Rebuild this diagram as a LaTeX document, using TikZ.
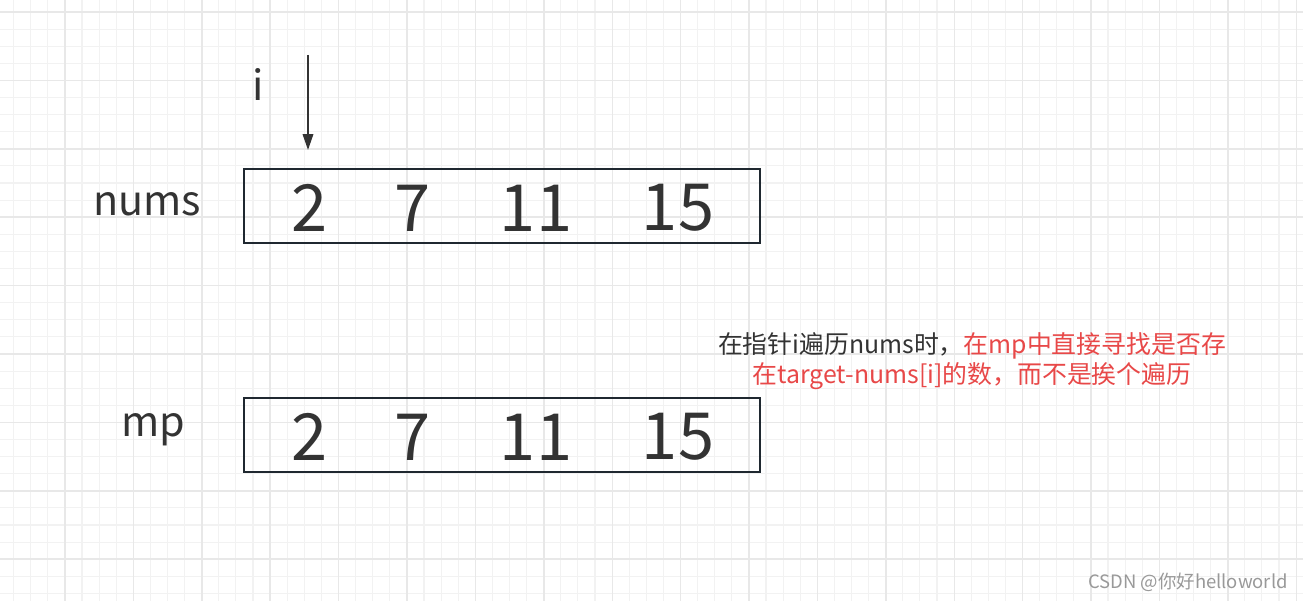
\documentclass[tikz,border=0pt]{standalone}
\usepackage{fontspec}
\setmainfont{Noto Sans CJK SC}
\usetikzlibrary{arrows.meta}
\definecolor{ink}{RGB}{51,51,51}
\definecolor{boxline}{RGB}{31,40,48}
\definecolor{hint}{RGB}{232,72,72}
\definecolor{gridminor}{RGB}{242,242,242}
\definecolor{gridmajor}{RGB}{232,232,232}
\tikzset{
  numtext/.style={inner sep=0pt, text=ink, font=\fontsize{37}{40}\selectfont},
  labeltext/.style={inner sep=0pt, text=ink, font=\fontsize{23.5}{26}\selectfont},
  notetext/.style={inner sep=0pt, font=\fontsize{14.15}{17}\selectfont},
  arraybox/.style={draw=boxline, line width=1.1pt, minimum width=10.32cm, minimum height=1.48cm, inner sep=0pt},
}
\begin{document}
\begin{tikzpicture}[x=0.02cm, y=-0.02cm]
   \useasboundingbox (0,0) rectangle (1303,601);
   \fill[white] (0,0) rectangle (1303,601);
   % grid paper
   \foreach \k in {0,...,76} \draw[gridminor, line width=0.6pt] (13.6+17.1*\k,0) -- (13.6+17.1*\k,601);
   \foreach \k in {0,...,35} \draw[gridminor, line width=0.6pt] (0,12+17.1*\k) -- (1303,12+17.1*\k);
   \foreach \k in {0,...,19} \draw[gridmajor, line width=0.8pt] (65+68.4*\k-68.4,0) -- (65+68.4*\k-68.4,601);
   \foreach \k in {0,...,8} \draw[gridmajor, line width=0.8pt] (0,12+68.4*\k) -- (1303,12+68.4*\k);

   % arrays
   \node (numsbox) [arraybox] at (502,206) {};
   \node (mpbox) [arraybox] at (502,435) {};
   \node (numslabel) [labeltext] at (147,204) {nums};
   \node (mplabel) [labeltext] at (153,430) {mp};
   \foreach \v/\x [count=\n] in {2/310, 7/413, 11/536, 15/678} {
      \node (nums\n) [numtext] at (\x,208) {\v};
      \node (mp\n) [numtext] at (\x,437) {\v};
   }

   % pointer i
   \node (ilabel) [labeltext] at (258,85) {i};
   \coordinate (itail) at (308,55);
   \coordinate (ihead) at (308,150);
   \draw [ink, line width=0.9pt, -{Triangle[length=9pt, width=6pt]}] (itail) -- (ihead);

   % note
   \node (note1) [notetext] at (972,346)
      {\textcolor{ink}{在指针i遍历nums时，}\textcolor{hint}{在mp中直接寻找是否存}};
   \node (note2) [notetext, text=hint] at (972,376)
      {在target-nums[i]的数，而不是挨个遍历};

   \node (mark) [inner sep=0pt, text=gray!80, font=\fontsize{10.5}{12}\selectfont] at (1188,582)
      {CSDN @你好helloworld};
\end{tikzpicture}
\end{document}
